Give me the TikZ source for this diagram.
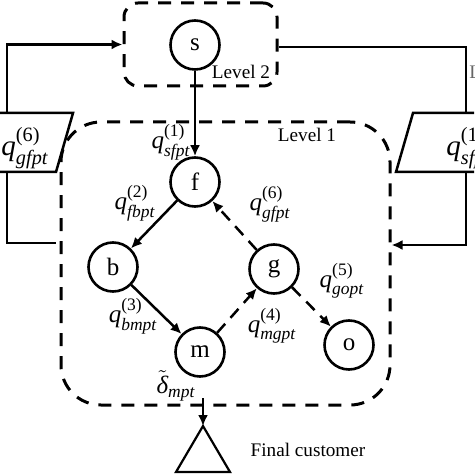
\documentclass[tikz,border=0pt]{standalone}
\usepackage{amsmath}
\usepackage{fontspec}
\setmainfont{Liberation Serif}
\usetikzlibrary{arrows.meta,calc}
\newcommand{\qlab}[2]{$\text{\itshape q}^{\text{\raisebox{1.5pt}{(#1)}}}_{\text{\raisebox{-0.5pt}{\itshape #2}}}$}
\begin{document}
\begin{tikzpicture}[x=0.5pt,y=-0.5pt,
  vertex/.style={circle, draw, line width=1.3pt, minimum size=24.5pt, inner sep=0pt, font=\fontsize{12.5}{14}\selectfont},
  levelbox/.style={draw, line width=1.5pt, dash pattern=on 6.5pt off 5pt, inner sep=0pt},
  flow/.style={line width=1.25pt, -{Latex[length=5.5pt,width=5pt]}},
  dflow/.style={flow, dash pattern=on 6pt off 4pt},
  feed/.style={line width=1.25pt},
  qlabel/.style={font=\fontsize{12.5}{14}\selectfont, inner sep=0pt},
  bigq/.style={font=\fontsize{14.5}{16}\selectfont, inner sep=0pt},
  lvl/.style={font=\fontsize{9.6}{11}\selectfont, inner sep=0pt}]
\useasboundingbox (0,0) rectangle (474,474);
\clip (0,0) rectangle (474,474);

% level boxes
\node[levelbox, rounded corners=7pt, minimum width=76.5pt, minimum height=41.5pt] (lvl2) at (200.5,44.5) {};
\node[levelbox, rounded corners=20pt, minimum width=164.5pt, minimum height=141.5pt] (lvl1) at (225.5,263.5) {};
\node[lvl] (t2) at (241,72) {Level 2};
\node[lvl] (t1) at (307,135) {Level 1};

% vertices
\node[vertex] (s) at (195,45) {s};
\node[vertex] (f) at (195,182) {f};
\node[vertex] (b) at (113,267) {b};
\node[vertex] (m) at (200,352) {m};
\node[vertex] (g) at (274,269) {g};
\node[vertex] (o) at (349,345) {o};

% flows
\draw[flow] (s) -- (f);
\draw[flow] (f) -- (b);
\draw[flow] (b) -- (m);
\draw[dflow] (m) -- (g);
\draw[dflow] (g) -- (f);
\draw[dflow] (g) -- (o);

% flow labels
\node[qlabel] (l1) at (171,142) {\qlab{1}{sfpt}};
\node[qlabel] (l2) at (135,203) {\qlab{2}{fbpt}};
\node[qlabel] (l3) at (133,316) {\qlab{3}{bmpt}};
\node[qlabel] (l4) at (272,326) {\qlab{4}{mgpt}};
\node[qlabel] (l5) at (342,281) {\qlab{5}{gopt}};
\node[qlabel] (l6) at (270,204) {\qlab{6}{gfpt}};

% left parallelogram and loop
\draw[feed] (-31,113) -- (73,113) -- (56,172) -- (-48,172) -- cycle;
\coordinate (pLt) at (7,113);
\coordinate (pLb) at (7,172);
\node[bigq] (qL) at (25,148) {\qlab{6}{gfpt}};
\coordinate (lb) at (7,243);
\draw[flow] (pLt) |- (lvl2.west);
\draw[feed, shorten >=2pt] (pLb) -- (lb) -- (lb -| lvl1.west);

% right parallelogram and loop
\draw[feed] (413,113) -- (517,113) -- (500,172) -- (396,172) -- cycle;
\coordinate (pRt) at (466,113);
\coordinate (pRb) at (466,172);
\node[bigq, anchor=west] (qR) at (446,148) {\qlab{1}{sfpt}};
\coordinate (rt) at (466,47);
\coordinate (rb) at (466,245);
\draw[feed] (rt -| lvl2.east) -- (rt) -- (pRt);
\draw[flow] (pRb) -- (rb) -- (rb -| lvl1.east);
\node[lvl, anchor=west, text=black!60] (tL) at (469,72) {L};

% final customer
\coordinate (dstart) at (203,398);
\coordinate (apex) at (203,426);
\draw[line width=1.1pt] (apex) -- (230,472) -- (176,472) -- cycle;
\draw[flow] (dstart) -- (apex);
\node[qlabel] (dl) at (176,386) {$\tilde{\text{\itshape δ}}_{\text{\itshape mpt}}$};
\node[lvl] (tc) at (308,450) {Final customer};
\end{tikzpicture}
\end{document}
